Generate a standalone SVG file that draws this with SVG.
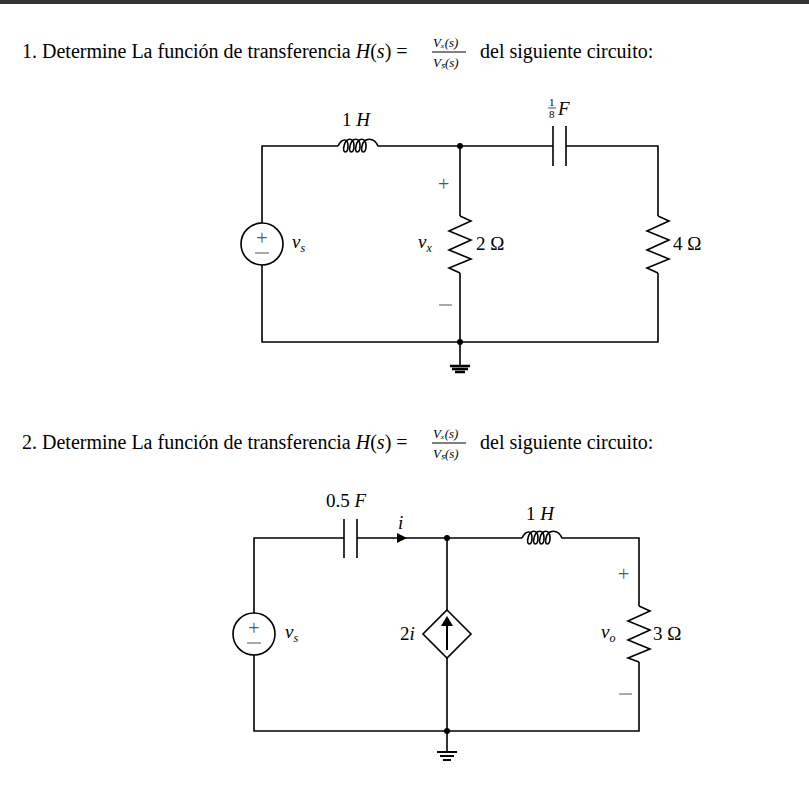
<svg xmlns="http://www.w3.org/2000/svg" width="809" height="808" viewBox="0 0 809 808">
<style>
.w{fill:none;stroke:#000;stroke-width:1.6}
.t{font-family:"Liberation Serif",serif;font-size:20px;fill:#000}
.c{font-family:"Liberation Serif",serif;font-size:19px;fill:#000}
.i{font-style:italic}
.s{font-family:"Liberation Serif",serif;font-style:italic;font-size:13px;fill:#000}
.g{font-family:"Liberation Serif",serif;font-size:20px;fill:#555}
</style>
<rect width="809" height="808" fill="#fff"/>
<rect width="809" height="4" fill="#333"/>
<g id="q1">
<text x="22" y="58" class="t">1.  Determine La función de transferencia <tspan class="i">H</tspan>(<tspan class="i">s</tspan>) =</text>
<text x="433" y="47" class="s">Vₓ(s)</text><line x1="432" y1="52" x2="466" y2="52" stroke="#000"/><text x="433" y="67" class="s">Vₛ(s)</text>
<text x="480" y="58" class="t">del siguiente circuito:</text>
<text x="22" y="449" class="t">2.  Determine La función de transferencia <tspan class="i">H</tspan>(<tspan class="i">s</tspan>) =</text>
<text x="433" y="438" class="s">Vₓ(s)</text><line x1="432" y1="443" x2="466" y2="443" stroke="#000"/><text x="433" y="458" class="s">Vₛ(s)</text>
<text x="480" y="449" class="t">del siguiente circuito:</text>
</g>
<g id="connectors">
<path class="w" d="M262,223V146H338M382,146H553M566,146H658V216M658,273V342H262V265M460,146V216M460,273V366"/>
<path class="w" d="M254,613V538H344M357,538H522M566,538H639V606M639,662V731H254V655M447,538V610M447,658V752"/>
</g>
<g id="c1">
<circle cx="262" cy="244" r="21" class="w" stroke-width="2"/>
<text x="262" y="245" class="g" font-size="18" text-anchor="middle">+</text><line x1="255" y1="253" x2="269" y2="253" stroke="#555"/>
<text x="292" y="248" class="c i" fill="#555">v<tspan font-size="12" dy="4">s</tspan></text>
<path class="w" stroke-width="2" d="M338,146c4,-8 10,-8 10,0c0,8 -6,8 -4,0c2,-9 10,-9 10,0c0,8 -6,8 -4,0c2,-9 10,-9 10,0c0,8 -6,8 -4,0c2,-9 10,-9 10,0c0,8 -6,8 -4,0c2,-9 12,-9 16,0c1,0 4,0 4,0"/>
<text x="342" y="126" class="c">1  <tspan class="i">H</tspan></text>
<line x1="553" y1="126" x2="553" y2="166" class="w" stroke-width="2.2"/><line x1="566" y1="126" x2="566" y2="166" class="w" stroke-width="2.2"/>
<text x="549" y="106" font-family="Liberation Serif" font-size="11">1</text><line x1="548" y1="108" x2="556" y2="108" stroke="#000" stroke-width="0.7"/><text x="549" y="118" font-family="Liberation Serif" font-size="11">8</text>
<text x="558" y="115" class="c i">F</text>
<circle cx="460" cy="146" r="3"/><circle cx="460" cy="342" r="3"/>
<path class="w" stroke-width="2" d="M460,216L471,221L449,231L471,240L449,250L471,259L449,268L460,273"/>
<path class="w" stroke-width="2" d="M658,216L669,221L647,231L669,240L647,250L669,259L647,268L658,273"/>
<text x="476" y="250" class="c">2 Ω</text><text x="673" y="250" class="c">4 Ω</text>
<text x="438" y="191" class="g">+</text><line x1="439" y1="305" x2="452" y2="305" stroke="#555"/>
<text x="418" y="248" class="c i" fill="#555">v<tspan font-size="12" dy="4">x</tspan></text>
<path d="M450,366H470M452,369H468M455,372H465" stroke="#000" stroke-width="2.5"/>
</g>
<g id="c2">
<circle cx="254" cy="634" r="21" class="w" stroke-width="2"/>
<text x="254" y="635" class="g" font-size="18" text-anchor="middle">+</text><line x1="247" y1="643" x2="261" y2="643" stroke="#555"/>
<text x="285" y="638" class="c i" fill="#555">v<tspan font-size="12" dy="4">s</tspan></text>
<line x1="344" y1="519" x2="344" y2="558" class="w" stroke-width="2.2"/><line x1="357" y1="519" x2="357" y2="558" class="w" stroke-width="2.2"/>
<text x="326" y="507" class="c">0.5  <tspan class="i">F</tspan></text>
<path d="M397,533L407,538L397,543Z"/>
<text x="398" y="529" class="c i" fill="#555">i</text>
<circle cx="447" cy="538" r="3"/><circle cx="447" cy="731" r="3"/>
<path class="w" stroke-width="2" d="M522,538c4,-8 10,-8 10,0c0,8 -6,8 -4,0c2,-9 10,-9 10,0c0,8 -6,8 -4,0c2,-9 10,-9 10,0c0,8 -6,8 -4,0c2,-9 10,-9 10,0c0,8 -6,8 -4,0c2,-9 12,-9 16,0c1,0 4,0 4,0"/>
<text x="526" y="520" class="c">1  <tspan class="i">H</tspan></text>
<path class="w" stroke-width="2" d="M447,610L471,634L447,658L423,634Z"/>
<line x1="447" y1="650" x2="447" y2="624" stroke="#000" stroke-width="2"/><path d="M441,626L447,616L453,626Z"/>
<text x="400" y="640" class="c i" fill="#555"><tspan font-style="normal">2</tspan>i</text>
<path class="w" stroke-width="2" d="M639,606L650,611L628,621L650,630L628,640L650,649L628,658L639,662"/>
<text x="653" y="640" class="c">3 Ω</text>
<text x="618" y="581" class="g">+</text><line x1="619" y1="694" x2="632" y2="694" stroke="#555"/>
<text x="601" y="638" class="c i" fill="#555">v<tspan font-size="12" dy="4">o</tspan></text>
<path d="M437,752H457M440,756H454M443,760H451" stroke="#000" stroke-width="1.8"/>
</g>
</svg>
